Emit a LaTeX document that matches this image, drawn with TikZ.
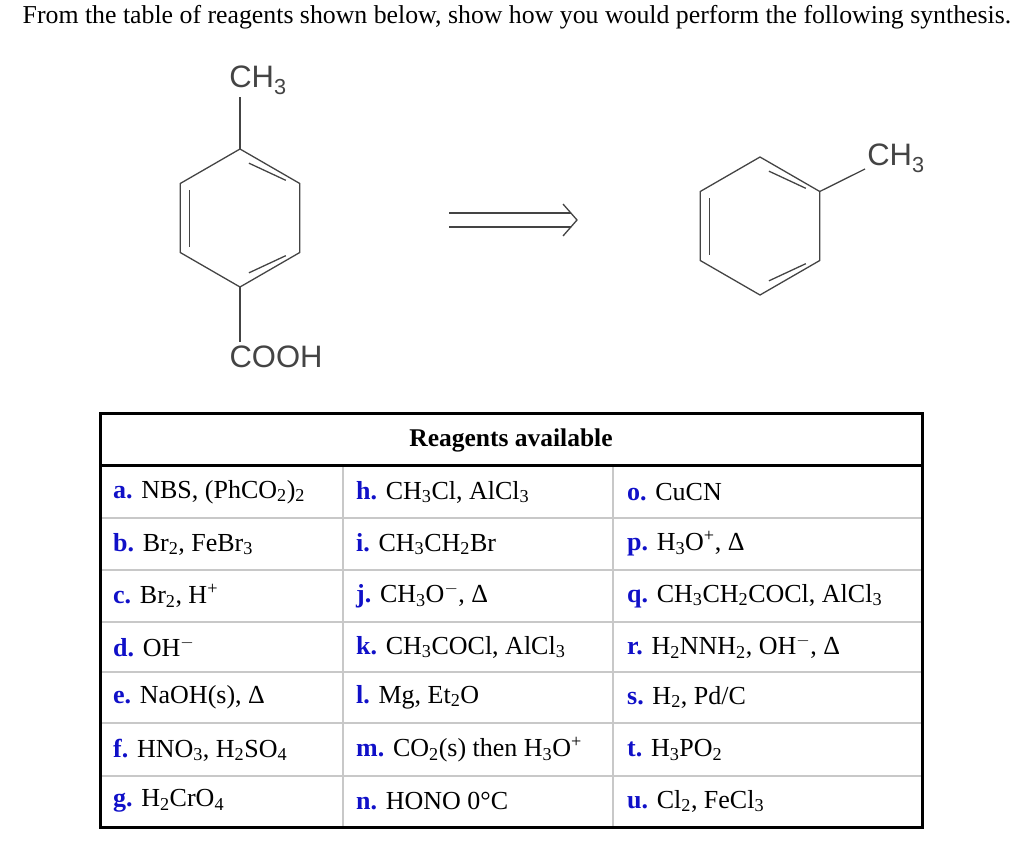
\documentclass[tikz,border=0pt]{standalone}
\usetikzlibrary{calc}
\usepackage{fontspec}
\setmainfont{Liberation Serif}
\newfontfamily\chemsans{Liberation Sans}
\newcommand{\sbx}[1]{\textsubscript{#1}}
\newcommand{\spx}[1]{\textsuperscript{#1}}
\definecolor{lbl}{HTML}{1010C8}
\definecolor{bond}{HTML}{444444}
\definecolor{grid}{HTML}{C8C8C8}
\begin{document}
\begin{tikzpicture}[x=1pt,y=-1pt,
  bnd/.style={draw=bond,line width=1.3pt},
  grp/.style={font=\chemsans\fontsize{31}{31}\selectfont,text=bond,inner sep=0pt},
  cell/.style={anchor=west,font=\fontsize{26}{28}\selectfont,inner sep=0pt},
  gridline/.style={draw=grid,line width=1.2pt}]
\useasboundingbox (0,0) rectangle (1024,843);
\node[anchor=north,font=\fontsize{25.8}{28}\selectfont,inner sep=0pt] (title) at (517,5) {From the table of reagents shown below, show how you would perform the following synthesis.};
% left ring (center 240,218, r 69)
\foreach \i/\a in {1/90,2/30,3/-30,4/-90,5/-150,6/150}
  \coordinate (L\i) at ($(240,218)+(\a:69 and -69)$);
\draw[bnd] (L1)--(L2)--(L3)--(L4)--(L5)--(L6)--cycle;
\draw[bnd] ($(L1)!0.15!(L2)+(0,9)$) -- ($(L2)!0.15!(L1)+(-5,2)$);
\draw[bnd] ($(L5)+(9,-6)$) -- ($(L6)+(9,6)$);
\draw[bnd] ($(L3)!0.15!(L4)+(-5,-2)$) -- ($(L4)!0.15!(L3)+(0,-9)$);
\node[grp] (lch3) at (258,80) {CH\textsubscript{3}};
\node[grp] (cooh) at (276,357) {COOH};
\draw[bnd] (L1) -- (240,97);
\draw[bnd] (L4) -- (240,342);
% arrow
\coordinate (a1) at (449,213);
\coordinate (a2) at (449,227);
\draw[bnd] (a1) -- (571,213);
\draw[bnd] (a2) -- (571,227);
\draw[bnd] (563,204) -- (577,220) -- (563,236);
% right ring
\foreach \i/\a in {1/90,2/30,3/-30,4/-90,5/-150,6/150}
  \coordinate (R\i) at ($(760,226)+(\a:69 and -69)$);
\draw[bnd] (R1)--(R2)--(R3)--(R4)--(R5)--(R6)--cycle;
\draw[bnd] ($(R1)!0.15!(R2)+(0,9)$) -- ($(R2)!0.15!(R1)+(-5,2)$);
\draw[bnd] ($(R5)+(9,-6)$) -- ($(R6)+(9,6)$);
\draw[bnd] ($(R3)!0.15!(R4)+(-5,-2)$) -- ($(R4)!0.15!(R3)+(0,-9)$);
\node[grp] (rch3) at (896,158) {CH\textsubscript{3}};
\draw[bnd] (R2) -- (865,169);
% table
\foreach \y in {518,570,622,672,723,776} \draw[gridline] (100,\y) -- (922,\y);
\draw[gridline] (343,465) -- (343,827);
\draw[gridline] (613,465) -- (613,827);
\draw[line width=3pt] (100,465) -- (922,465);
\draw[line width=3pt] (100,413) rectangle (922,827);
\node[font=\bfseries\fontsize{25.5}{28}\selectfont,inner sep=0pt] (hdr) at (511,440) {Reagents available};
\foreach \lab/\txt/\y [count=\n] in {
 a./{NBS, (PhCO\sbx{2})\sbx{2}}/492,
 b./{Br\sbx{2}, FeBr\sbx{3}}/544,
 c./{Br\sbx{2}, H\spx{+}}/596,
 d./{OH\spx{$-$}}/647,
 e./{NaOH(s), Δ}/697,
 f./{HNO\sbx{3}, H\sbx{2}SO\sbx{4}}/750,
 g./{H\sbx{2}CrO\sbx{4}}/801}
 \node[cell] (ca\n) at (113,\y) {\textcolor{lbl}{\textbf{\lab}} \txt};
\foreach \lab/\txt/\y [count=\n] in {
 h./{CH\sbx{3}Cl, AlCl\sbx{3}}/492,
 i./{CH\sbx{3}CH\sbx{2}Br}/544,
 j./{CH\sbx{3}O\spx{$-$}, Δ}/596,
 k./{CH\sbx{3}COCl, AlCl\sbx{3}}/647,
 l./{Mg, Et\sbx{2}O}/697,
 m./{CO\sbx{2}(s) then H\sbx{3}O\spx{+}}/750,
 n./{HONO 0°C}/801}
 \node[cell] (cb\n) at (356,\y) {\textcolor{lbl}{\textbf{\lab}} \txt};
\foreach \lab/\txt/\y [count=\n] in {
 o./{CuCN}/492,
 p./{H\sbx{3}O\spx{+}, Δ}/544,
 q./{CH\sbx{3}CH\sbx{2}COCl, AlCl\sbx{3}}/596,
 r./{H\sbx{2}NNH\sbx{2}, OH\spx{$-$}, Δ}/647,
 s./{H\sbx{2}, Pd/C}/697,
 t./{H\sbx{3}PO\sbx{2}}/750,
 u./{Cl\sbx{2}, FeCl\sbx{3}}/801}
 \node[cell] (cc\n) at (627,\y) {\textcolor{lbl}{\textbf{\lab}} \txt};
\end{tikzpicture}
\end{document}
